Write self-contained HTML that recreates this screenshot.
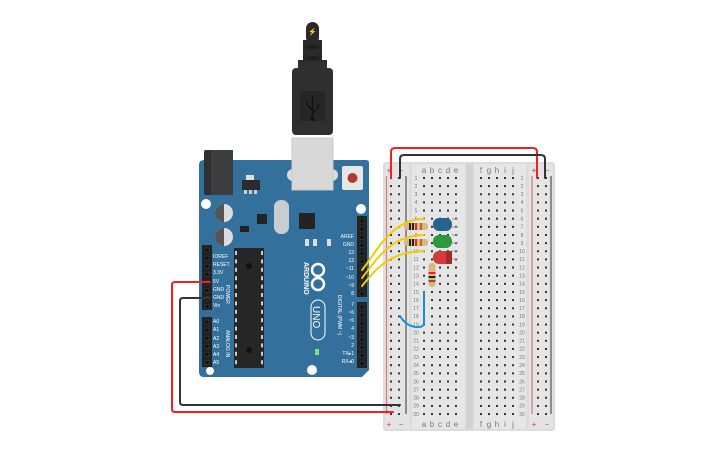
<!DOCTYPE html>
<html><head><meta charset="utf-8"><style>
html,body{margin:0;padding:0;background:#fff;width:725px;height:453px;overflow:hidden}
svg{display:block;font-family:"Liberation Sans",sans-serif}
</style></head><body>
<svg id="s" width="725" height="453" viewBox="0 0 725 453" xmlns="http://www.w3.org/2000/svg">
<!-- Breadboard -->
<rect x="383" y="162" width="172" height="269" rx="3" fill="#dcdcdc"/>
<rect x="385" y="164" width="24" height="265" fill="#e4e4e4"/>
<rect x="529" y="164" width="24" height="265" fill="#e4e4e4"/>
<rect x="412" y="164" width="53" height="265" fill="#e6e6e6"/>
<rect x="474" y="164" width="52" height="265" fill="#e6e6e6"/>
<rect x="466" y="164" width="7" height="265" fill="#d2d2d2"/>
<line x1="386.5" y1="176" x2="386.5" y2="414" stroke="#d47a7a" stroke-width="1.2"/>
<line x1="406" y1="176" x2="406" y2="414" stroke="#333" stroke-width="1"/>
<line x1="532" y1="176" x2="532" y2="414" stroke="#d47a7a" stroke-width="1.2"/>
<line x1="551" y1="176" x2="551" y2="414" stroke="#333" stroke-width="1"/>
<g id="dots"></g>
<g font-size="8" fill="#777" text-anchor="middle">
<text x="389" y="173" fill="#d33">+</text><text x="401" y="173">−</text>
<text x="534" y="173" fill="#d33">+</text><text x="547" y="173">−</text>
<text x="389" y="427" fill="#d33">+</text><text x="401" y="427">−</text>
<text x="534" y="427" fill="#d33">+</text><text x="547" y="427">−</text>
</g>
<!-- Arduino -->
<path d="M204 160 H366 Q369 160 369 163 V370 L362 377 H204 Q199 377 199 372 V165 Q199 160 204 160Z" fill="#33709c"/>
<rect x="204" y="150" width="29" height="45" rx="2" fill="#2e2f31"/>
<rect x="211" y="150" width="22" height="45" fill="#3c3d3f"/>
<rect x="242" y="180" width="18" height="10" fill="#2b2b2b"/>
<rect x="246" y="175" width="8" height="5" fill="#ddd"/>
<rect x="244" y="190" width="3" height="4" fill="#ccc"/><rect x="249" y="190" width="3" height="4" fill="#ccc"/><rect x="254" y="190" width="3" height="4" fill="#ccc"/>
<!-- USB -->
<rect x="292" y="138" width="41" height="52" fill="#dcdcdc"/>
<rect x="287" y="169" width="51" height="12" rx="6" fill="#dcdcdc"/>
<rect x="292" y="138" width="41" height="52" fill="#d8d8d8" stroke="#c8c8c8"/>
<rect x="292" y="68" width="41" height="67" rx="4" fill="#2f2f2f"/>
<rect x="298" y="60" width="29" height="12" fill="#2f2f2f"/>
<rect x="303" y="40" width="19" height="22" fill="#2a2a2a"/>
<ellipse cx="312.5" cy="47" rx="7" ry="2" fill="#1e1e1e"/><ellipse cx="312.5" cy="58" rx="7" ry="2" fill="#1e1e1e"/>
<rect x="306" y="22" width="13" height="22" rx="6.5" fill="#2a2a2a"/>
<text x="312.5" y="34" font-size="7" fill="#f4d21e" text-anchor="middle">⚡</text>
<rect x="300" y="91" width="25" height="30" fill="#262626"/>
<path d="M312.5 96 V118 M312.5 110 L307 105 V102 M312.5 113 L318 108 V104" stroke="#111" stroke-width="1.5" fill="none"/>
<circle cx="312.5" cy="119" r="2" fill="#111"/>
<!-- reset -->
<rect x="342" y="166" width="21" height="24" rx="2" fill="#e6e6e6"/>
<circle cx="352.5" cy="178" r="5" fill="#b03a2e"/>
<!-- holes -->
<circle cx="206" cy="204" r="5" fill="#fff"/><circle cx="361" cy="209" r="5" fill="#fff"/>
<circle cx="312" cy="370" r="5" fill="#fff"/><circle cx="210" cy="371" r="4" fill="#fff"/>
<!-- caps -->
<circle cx="224" cy="213" r="9" fill="#ddd"/><path d="M224 204 A9 9 0 0 0 224 222Z" fill="#555"/>
<circle cx="224" cy="237" r="9" fill="#ddd"/><path d="M224 228 A9 9 0 0 0 224 246Z" fill="#555"/>
<rect x="274" y="200" width="15" height="34" rx="7" fill="#c9ccd0"/>
<rect x="257" y="214" width="10" height="10" fill="#222"/>
<rect x="299" y="213" width="16" height="16" fill="#222"/>
<rect x="240" y="226" width="9" height="6" fill="#222"/>
<rect x="305" y="239" width="4" height="7" fill="#ddd"/><rect x="313" y="239" width="4" height="7" fill="#ddd"/><rect x="327" y="239" width="4" height="7" fill="#ddd"/>
<!-- chip -->
<rect x="234" y="248" width="30" height="120" fill="#262626"/>
<g fill="#ccc" id="chippins"></g>
<circle cx="249" cy="266" r="3" fill="#111"/><circle cx="249" cy="350" r="3" fill="#111"/>
<!-- headers -->
<rect x="202" y="245" width="10" height="65" fill="#222"/>
<rect x="202" y="317" width="10" height="50" fill="#222"/>
<rect x="357" y="216" width="10" height="81" fill="#222"/>
<rect x="357" y="302" width="10" height="66" fill="#222"/>
<g id="hpins"></g>
<g font-size="5" fill="#fff">
<text x="213" y="258">IOREF</text><text x="213" y="266">RESET</text><text x="213" y="274">3.3V</text><text x="213" y="283">5V</text><text x="213" y="291">GND</text><text x="213" y="299">GND</text><text x="213" y="307">Vin</text>
<text x="213" y="323">A0</text><text x="213" y="331">A1</text><text x="213" y="340">A2</text><text x="213" y="348">A3</text><text x="213" y="356">A4</text><text x="213" y="364">A5</text>
</g>
<g font-size="5" fill="#fff" text-anchor="end">
<text x="354" y="238">AREF</text><text x="354" y="246">GND</text><text x="354" y="254">13</text><text x="354" y="262">12</text><text x="354" y="270">~11</text><text x="354" y="279">~10</text><text x="354" y="287">~9</text><text x="354" y="295">8</text>
<text x="354" y="306">7</text><text x="354" y="314">~6</text><text x="354" y="322">~5</text><text x="354" y="330">4</text><text x="354" y="339">~3</text><text x="354" y="347">2</text><text x="354" y="355">TX▸1</text><text x="354" y="363">RX◂0</text>
</g>
<text transform="translate(226,285) rotate(90)" font-size="5" fill="#fff">POWER</text>
<text transform="translate(226,330) rotate(90)" font-size="5" fill="#fff">ANALOG IN</text>
<text transform="translate(338,295) rotate(90)" font-size="5" fill="#fff">DIGITAL (PWM ~)</text>
<text transform="translate(304,262) rotate(90)" font-size="7" font-weight="bold" fill="#fff">ARDUINO</text>
<g fill="none" stroke="#fff" stroke-width="2.5"><circle cx="318" cy="270" r="6"/><circle cx="318" cy="284" r="6"/></g>
<rect x="311" y="300" width="14" height="40" rx="7" fill="none" stroke="#fff" stroke-width="1"/>
<text transform="translate(313,306) rotate(90)" font-size="10" fill="#fff">UNO</text>
<rect x="315" y="349" width="4" height="6" fill="#7fe07f"/>
<!-- Components -->
<g stroke="#999" stroke-width="1">
<line x1="452" y1="219" x2="458" y2="219"/><line x1="452" y1="227" x2="458" y2="227"/>
<line x1="452" y1="235" x2="458" y2="235"/><line x1="452" y1="243" x2="458" y2="243"/>
<line x1="452" y1="251" x2="458" y2="251"/><line x1="452" y1="259" x2="458" y2="259"/>
</g>
<rect x="433" y="218" width="19" height="13" rx="6" fill="#24658f"/>
<rect x="433" y="235" width="19" height="13" rx="6" fill="#2c9a3a"/>
<rect x="433" y="251" width="19" height="13" rx="6" fill="#d43b3b"/><rect x="446" y="251" width="6" height="13" fill="#a52a2a"/>
<g>
<rect x="404" y="223" width="24" height="7" rx="3" fill="#d9b77e"/>
<rect x="409" y="223" width="2" height="7" fill="#222"/><rect x="412" y="223" width="2" height="7" fill="#222"/><rect x="415" y="223" width="2" height="7" fill="#e22"/><rect x="420" y="223" width="2" height="7" fill="#a07030"/>
<rect x="404" y="239" width="24" height="7" rx="3" fill="#d9b77e"/>
<rect x="409" y="239" width="2" height="7" fill="#222"/><rect x="412" y="239" width="2" height="7" fill="#222"/><rect x="415" y="239" width="2" height="7" fill="#e22"/><rect x="420" y="239" width="2" height="7" fill="#a07030"/>
<rect x="428.5" y="263" width="7" height="24" rx="3" fill="#d9b77e"/>
<rect x="428.5" y="272" width="7" height="2" fill="#e22"/><rect x="428.5" y="276" width="7" height="2" fill="#222"/><rect x="428.5" y="280" width="7" height="2" fill="#8a5a20"/>
</g>
<!-- Wires -->
<g fill="none" stroke-width="2" stroke-linecap="round">
<path d="M362 270 C375 255,390 219,424 219" stroke="#f2cc00"/>
<path d="M362 278 C375 262,390 235,424 235" stroke="#f2cc00"/>
<path d="M362 286 C375 270,390 251,424 251" stroke="#f2cc00"/>
<path d="M424 292 V322 Q424 328 416 327 Q406 326 400 316" stroke="#1a8fd6"/>
<path d="M391 178 V152 Q391 148 395 148 H533 Q537 148 537 152 V178" stroke="#e22"/>
<path d="M400 178 V159 Q400 155 404 155 H541 Q545 155 545 159 V178" stroke="#333"/>
<path d="M210 282 H175 Q172 282 172 285 V409 Q172 412 175 412 H393" stroke="#e22"/>
<path d="M210 298 H183 Q180 298 180 301 V402 Q180 405 183 405 H400" stroke="#333"/>
</g>
</svg>
<script>
var NS="http://www.w3.org/2000/svg",d=document.getElementById("dots"),out="";
var cols=[391,399,424,432,440,448,456,481,489,497,505,513,538,546];
for(var r=0;r<30;r++){var y=178+r*8.14;
 for(var i=0;i<cols.length;i++){out+='<rect x="'+(cols[i]-1)+'" y="'+(y-1)+'" width="2" height="2" fill="#333"/>';}
 out+='<text x="416" y="'+(y+1.8)+'" font-size="5" fill="#777" text-anchor="middle">'+(r+1)+'</text>';
 out+='<text x="522" y="'+(y+1.8)+'" font-size="5" fill="#777" text-anchor="middle">'+(r+1)+'</text>';}
var L=["a","b","c","d","e","f","g","h","i","j"],X=[424,432,440,448,456,481,489,497,505,513];
for(var k=0;k<10;k++){out+='<text x="'+X[k]+'" y="173" font-size="8" fill="#777" text-anchor="middle">'+L[k]+'</text><text x="'+X[k]+'" y="427" font-size="8" fill="#777" text-anchor="middle">'+L[k]+'</text>';}
d.innerHTML=out;
var h="";function col(x,y0,n){for(var j=0;j<n;j++)h+='<rect x="'+(x-2)+'" y="'+(y0+j*8.1-2)+'" width="4" height="4" fill="#111" stroke="#444" stroke-width="0.5"/>';}
col(207,250,8);col(207,322,6);col(362,221,10);col(362,307,8);
document.getElementById("hpins").innerHTML=h;
var c="";for(var j=0;j<14;j++){c+='<rect x="235" y="'+(251+j*8.4)+'" width="2" height="4"/><rect x="261" y="'+(251+j*8.4)+'" width="2" height="4"/>';}
document.getElementById("chippins").innerHTML=c;
</script>
</body></html>
